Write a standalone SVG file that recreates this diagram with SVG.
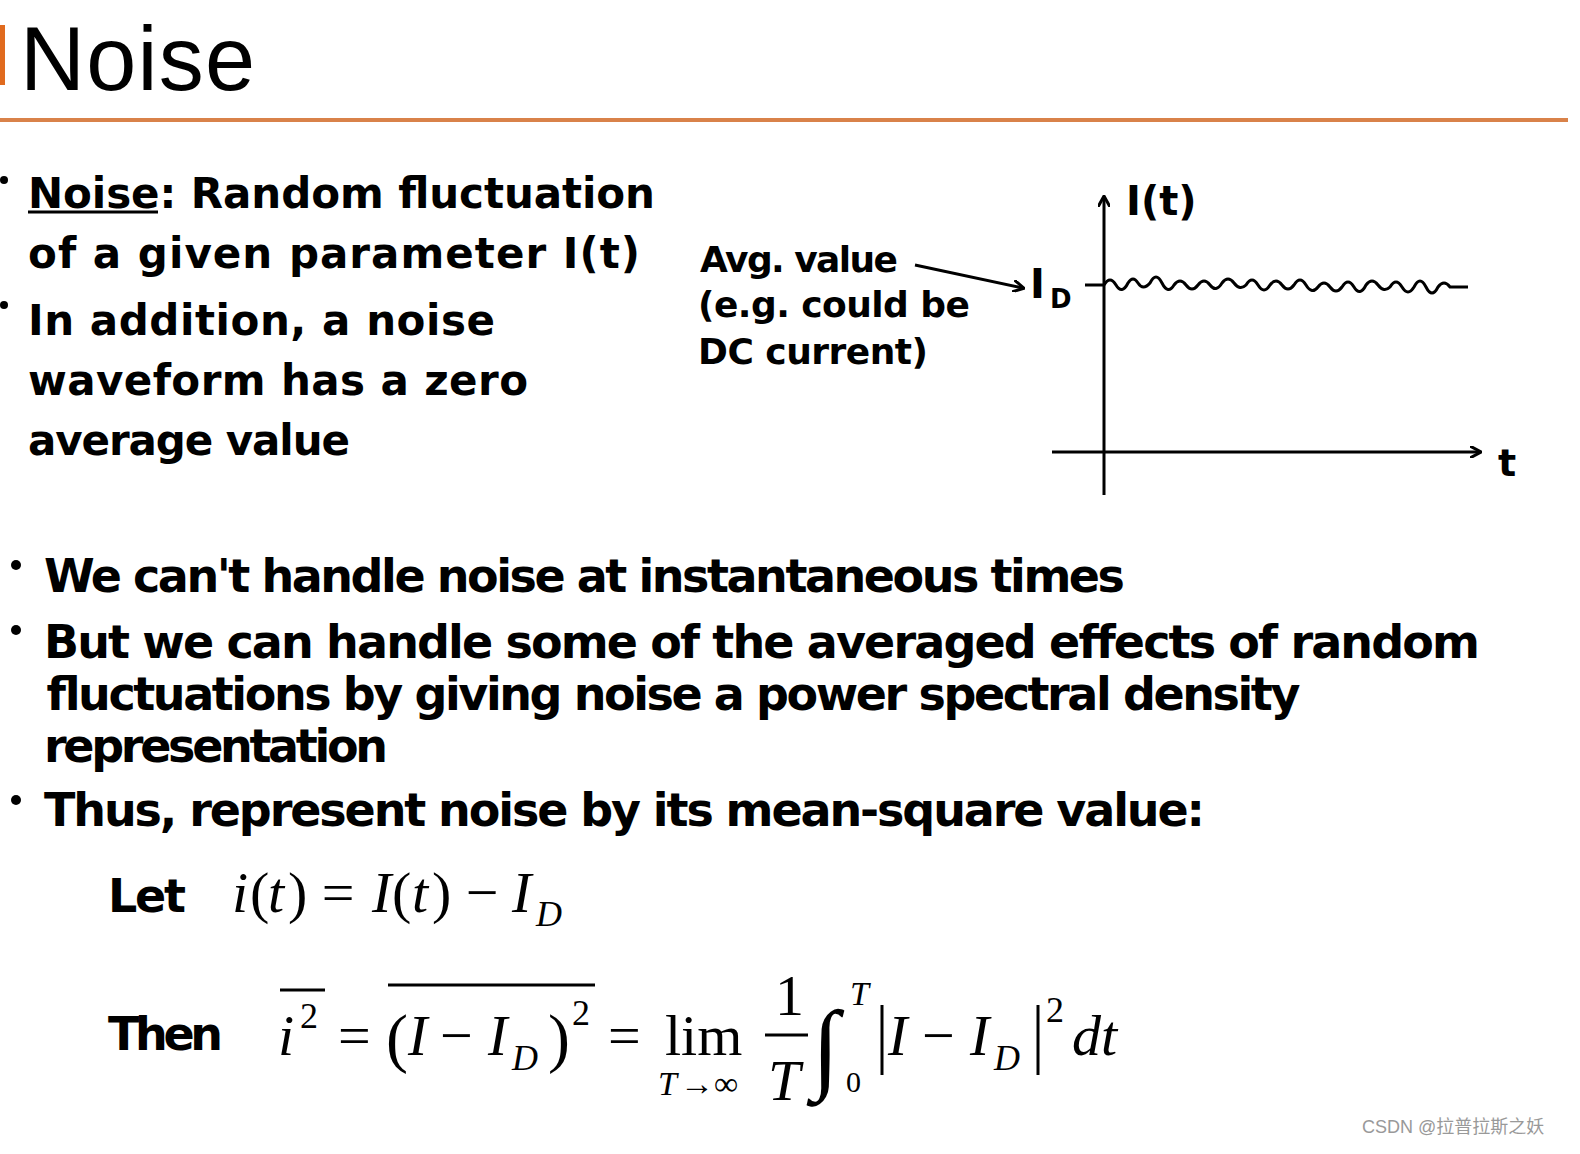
<svg xmlns="http://www.w3.org/2000/svg" width="1580" height="1154" viewBox="0 0 1580 1154">
<style>
.b{font-family:"DejaVu Sans","Liberation Sans",sans-serif;font-weight:bold;fill:#000}
.m{font-family:"Liberation Serif","Times New Roman",serif;font-style:italic;fill:#000}
.r{font-family:"Liberation Serif","Times New Roman",serif;fill:#000}
.ln{stroke:#000;stroke-width:3;fill:none}
</style>
<defs><marker id="ah" markerWidth="12" markerHeight="12" refX="10" refY="6" orient="auto" markerUnits="userSpaceOnUse"><path d="M0,0 L11,6 L0,12" fill="none" stroke="#000" stroke-width="3"/></marker></defs>
<rect width="1580" height="1154" fill="#fff"/>
<rect x="0" y="25" width="5" height="60" fill="#e06a1e"/>
<text x="20" y="90" font-family="Liberation Sans,Arial,sans-serif" font-size="90" textLength="235" fill="#000">Noise</text>
<line x1="0" y1="120" x2="1568" y2="120" stroke="#d9824a" stroke-width="4"/>
<g class="b" font-size="42">
<circle cx="4" cy="180" r="4"/><circle cx="4" cy="305" r="4"/>
<text x="28" y="208" textLength="627">Noise: Random fluctuation</text>
<line x1="28" y1="212" x2="158" y2="212" stroke="#000" stroke-width="3"/>
<text x="28" y="268" textLength="612">of a given parameter I(t)</text>
<text x="28" y="335" textLength="467">In addition, a noise</text>
<text x="28" y="395" textLength="500">waveform has a zero</text>
<text x="28" y="455" textLength="322">average value</text>
</g>
<g id="graph">
<line class="ln" x1="1104" y1="495" x2="1104" y2="197" marker-end="url(#ah)"/>
<line class="ln" x1="1052" y1="452" x2="1480" y2="452" marker-end="url(#ah)"/>
<text class="b" x="1126" y="215" font-size="40">I(t)</text>
<text class="b" x="1498" y="476" font-size="38">t</text>
<text class="b" x="1030" y="298" font-size="40">I</text><text class="b" x="1050" y="308" font-size="26">D</text>
<line class="ln" x1="1085" y1="285" x2="1104" y2="285"/>
<path class="ln" stroke-width="2.5" d="M1104,285 q6,-10 12,0 t12,-2 q5,-8 10,0 t12,0 q6,-12 12,0 t12,2 q6,-8 12,0 t12,0 q6,-8 12,0 t12,-2 q6,-8 12,0 t12,2 q6,-10 12,0 t12,0 q6,-8 12,0 t12,0 q6,-10 12,0 t12,2 q6,-8 12,0 t12,0 q6,-10 12,0 t12,-2 q6,-8 12,0 t12,2 q6,-10 12,0 t12,0 q6,-12 12,0 t12,0 q6,-8 12,0 l18,0"/>
<g class="b" font-size="36">
<text x="700" y="272" textLength="198">Avg. value</text>
<text x="698" y="317" textLength="272">(e.g. could be</text>
<text x="698" y="364" textLength="230">DC current)</text>
</g>
<line class="ln" x1="915" y1="265" x2="1023" y2="288" marker-end="url(#ah)"/>
</g>
<g class="b" font-size="46">
<circle cx="16" cy="565" r="5"/><circle cx="16" cy="630" r="5"/><circle cx="16" cy="800" r="5"/>
<text x="44" y="592" textLength="1081">We can't handle noise at instantaneous times</text>
<text x="44" y="658" textLength="1436">But we can handle some of the averaged effects of random</text>
<text x="44" y="710" textLength="1254">fluctuations by giving noise a power spectral density</text>
<text x="44" y="762" textLength="344">representation</text>
<text x="44" y="826" textLength="1161">Thus, represent noise by its mean-square value:</text>
<text x="108" y="912" textLength="78">Let</text>
<text x="108" y="1050" textLength="115">Then</text>
</g>
<g font-size="58">
<text class="m" x="232" y="912">i</text><text class="r" x="250" y="912">(</text><text class="m" x="268" y="912">t</text><text class="r" x="288" y="912">) = </text>
<text class="m" x="372" y="912">I</text><text class="r" x="392" y="912">(</text><text class="m" x="412" y="912">t</text><text class="r" x="432" y="912">) − </text>
<text class="m" x="512" y="912">I</text><text class="m" x="536" y="926" font-size="36">D</text>
<text class="m" x="278" y="1055">i</text><text class="r" x="300" y="1028" font-size="36">2</text>
<line class="ln" stroke-width="2" x1="280" y1="990" x2="325" y2="990"/>
<text class="r" x="338" y="1055">=</text>
<line class="ln" stroke-width="2" x1="388" y1="985" x2="595" y2="985"/>
<text class="r" x="386" y="1060" font-size="66">(</text><text class="m" x="408" y="1055">I</text><text class="r" x="440" y="1055">−</text><text class="m" x="488" y="1055">I</text><text class="m" x="512" y="1070" font-size="36">D</text><text class="r" x="548" y="1060" font-size="66">)</text><text class="r" x="572" y="1025" font-size="36">2</text>
<text class="r" x="608" y="1055">=</text>
<text class="r" x="665" y="1055">lim</text>
<text class="m" x="658" y="1095" font-size="34">T</text><text class="r" x="680" y="1095" font-size="34">→∞</text>
<text class="r" x="775" y="1015">1</text>
<line class="ln" stroke-width="2" x1="765" y1="1035" x2="808" y2="1035"/>
<text class="m" x="768" y="1100">T</text>
<text class="r" x="812" y="1080" font-size="100">∫</text>
<text class="m" x="850" y="1005" font-size="34">T</text><text class="r" x="846" y="1092" font-size="30">0</text>
<line class="ln" stroke-width="2" x1="882" y1="1005" x2="882" y2="1075"/>
<text class="m" x="888" y="1055">I</text><text class="r" x="922" y="1055">−</text><text class="m" x="970" y="1055">I</text><text class="m" x="994" y="1070" font-size="36">D</text>
<line class="ln" stroke-width="2" x1="1038" y1="1005" x2="1038" y2="1075"/>
<text class="r" x="1046" y="1022" font-size="36">2</text>
<text class="m" x="1072" y="1055">dt</text>
</g>
<text x="1362" y="1133" font-family="Liberation Sans,'Noto Sans CJK SC',sans-serif" font-size="18" fill="#999">CSDN @拉普拉斯之妖</text>
</svg>
